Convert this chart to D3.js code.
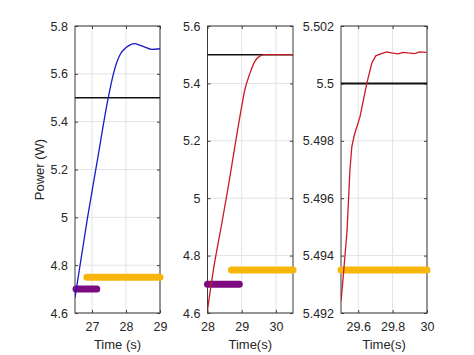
<!DOCTYPE html>
<html><head><meta charset="utf-8">
<script src="https://cdn.jsdelivr.net/npm/d3@7"></script>
<style>
html,body{margin:0;padding:0;background:#fff;}
svg{display:block;font-family:"Liberation Sans",Arial,Helvetica,sans-serif;}
</style></head>
<body>
<svg id="c" width="474" height="355"></svg>
<script>
// ---- data ----
const refPower = 5.5;

const p1Time  = [26.5, 26.87, 27.16, 27.45, 27.55, 27.63, 27.72, 27.82, 27.94, 28.06, 28.26, 28.4, 28.55, 28.76, 29.0];
const p1Power = [4.665, 5.0, 5.24, 5.48, 5.55, 5.6, 5.644, 5.679, 5.702, 5.716, 5.726, 5.72, 5.712, 5.702, 5.705];

const p2Time  = [28.0, 28.2, 28.4, 28.6, 28.8, 29.0, 29.09, 29.24, 29.38, 29.53, 29.67, 30.0, 30.5];
const p2Power = [4.61, 4.77, 4.9, 5.035, 5.18, 5.32, 5.377, 5.435, 5.476, 5.495, 5.5, 5.5, 5.5];

const p3Time  = [29.5, 29.509, 29.535, 29.552, 29.563, 29.578, 29.611, 29.65, 29.679, 29.702, 29.727, 29.765, 29.794, 29.832, 29.861, 29.89, 29.928, 29.957, 29.996];
const p3Power = [5.4924, 5.49299, 5.49485, 5.49699, 5.4978, 5.49821, 5.49885, 5.5, 5.5007, 5.50096, 5.50102, 5.5011, 5.50106, 5.50103, 5.50108, 5.50106, 5.50104, 5.5011, 5.50108];

const purple1 = [26.53, 27.14], purpleLevel1 = 4.7;
const purple2 = [28.0, 28.93],  purpleLevel2 = 4.7;
const yellow1 = [26.85, 29.0],  yellowLevel1 = 4.75;
const yellow2 = [28.7, 30.5],   yellowLevel2 = 4.75;
const yellow3 = [29.5, 30.0],   yellowLevel3 = 5.4935;

const xTicks1 = [27, 28, 29];
const xTicks2 = [28, 29, 30];
const xTicks3 = [29.6, 29.8, 30];
const yTicks1 = [4.6, 4.8, 5.0, 5.2, 5.4, 5.6, 5.8];
const yTicks2 = [4.6, 4.8, 5.0, 5.2, 5.4, 5.6];
const yTicks3 = [5.492, 5.494, 5.496, 5.498, 5.5, 5.502];

const yLabel = "Power (W)";
const xLabels = ["Time (s)", "Time(s)", "Time(s)"];

// ---- drawing ----
const svg = d3.select("#c");
const TOP = 26, BOT = 313;
const fmt = v => String(+v.toFixed(4));

const panels = [
  {x0:75, x1:160, xd:[26.5,29], yd:[4.6,5.8], xt:xTicks1, yt:yTicks1, t:p1Time, p:p1Power, col:"#1a1ac4", curve:d3.curveMonotoneX,
   purple:purple1, pl:purpleLevel1, yellow:yellow1, yl:yellowLevel1, xl:xLabels[0], refW:1.5},
  {x0:207.5, x1:293, xd:[28,30.5], yd:[4.6,5.6], xt:xTicks2, yt:yTicks2, t:p2Time, p:p2Power, col:"#cc1a24", curve:d3.curveMonotoneX,
   purple:purple2, pl:purpleLevel2, yellow:yellow2, yl:yellowLevel2, xl:xLabels[1], refW:1.5},
  {x0:341, x1:427, xd:[29.5,30], yd:[5.492,5.502], xt:xTicks3, yt:yTicks3, t:p3Time, p:p3Power, col:"#cc1a24", curve:d3.curveLinear,
   purple:null, yellow:yellow3, yl:yellowLevel3, xl:xLabels[2], refW:2}
];

panels.forEach((P, i) => {
  const x = d3.scaleLinear().domain(P.xd).range([P.x0, P.x1]);
  const y = d3.scaleLinear().domain(P.yd).range([BOT, TOP]);
  const g = svg.append("g");
  const clipId = "clip" + i;
  svg.append("defs").append("clipPath").attr("id", clipId)
    .append("rect").attr("x", P.x0).attr("y", TOP).attr("width", P.x1 - P.x0).attr("height", BOT - TOP);

  // grid
  g.selectAll(".gx").data(P.xt).join("line")
    .attr("x1", d => x(d)).attr("x2", d => x(d)).attr("y1", TOP).attr("y2", BOT)
    .attr("stroke", "#e3e3e3").attr("stroke-width", 1);
  g.selectAll(".gy").data(P.yt).join("line")
    .attr("y1", d => y(d)).attr("y2", d => y(d)).attr("x1", P.x0).attr("x2", P.x1)
    .attr("stroke", "#e3e3e3").attr("stroke-width", 1);

  // axes (inward ticks, mirrored)
  const ax = d3.axisBottom(x).tickValues(P.xt).tickFormat(fmt).tickSizeInner(-3).tickSizeOuter(0).tickPadding(9);
  const axT = d3.axisTop(x).tickValues(P.xt).tickFormat("").tickSizeInner(-3).tickSizeOuter(0);
  const ay = d3.axisLeft(y).tickValues(P.yt).tickFormat(fmt).tickSizeInner(-3).tickSizeOuter(0).tickPadding(7);
  const ayR = d3.axisRight(y).tickValues(P.yt).tickFormat("").tickSizeInner(-3).tickSizeOuter(0);
  const axes = [
    g.append("g").attr("transform", `translate(0,${BOT})`).call(ax),
    g.append("g").attr("transform", `translate(0,${TOP})`).call(axT),
    g.append("g").attr("transform", `translate(${P.x0},0)`).call(ay),
    g.append("g").attr("transform", `translate(${P.x1},0)`).call(ayR)
  ];
  axes.forEach(a => {
    a.select(".domain").remove();
    a.selectAll("line").attr("stroke", "#404040");
    a.selectAll("text").attr("fill", "#262626").style("font-size", "12.5px")
      .style("font-family", "'Liberation Sans',Arial,sans-serif");
  });
  // box
  g.append("rect").attr("x", P.x0).attr("y", TOP).attr("width", P.x1 - P.x0).attr("height", BOT - TOP)
    .attr("fill", "none").attr("stroke", "#3a3a3a").attr("stroke-width", 1);

  // reference line
  g.append("line").attr("x1", P.x0).attr("x2", P.x1).attr("y1", y(refPower)).attr("y2", y(refPower))
    .attr("stroke", "#111").attr("stroke-width", P.refW);

  // thick segments
  if (P.purple) {
    g.append("line").attr("x1", x(P.purple[0])).attr("x2", x(P.purple[1]))
      .attr("y1", y(P.pl)).attr("y2", y(P.pl))
      .attr("stroke", "#7d0a80").attr("stroke-width", 7).attr("stroke-linecap", "round");
  }
  g.append("line").attr("x1", x(P.yellow[0])).attr("x2", x(P.yellow[1]))
    .attr("y1", y(P.yl)).attr("y2", y(P.yl))
    .attr("stroke", "#f7b60c").attr("stroke-width", 7).attr("stroke-linecap", "round");

  // curve
  const data = P.t.map((t, k) => [t, P.p[k]]);
  g.append("path").datum(data).attr("clip-path", `url(#${clipId})`)
    .attr("d", d3.line().x(d => x(d[0])).y(d => y(d[1])).curve(P.curve))
    .attr("fill", "none").attr("stroke", P.col).attr("stroke-width", 1.3);

  // x label
  g.append("text").attr("x", (P.x0 + P.x1) / 2).attr("y", 349).attr("text-anchor", "middle")
    .attr("fill", "#262626").style("font-size", "13px").text(P.xl);
});

// y label
svg.append("text").attr("transform", `translate(44,${(TOP + BOT) / 2}) rotate(-90)`)
  .attr("text-anchor", "middle").attr("fill", "#262626").style("font-size", "13px").text(yLabel);
</script>
</body></html>
